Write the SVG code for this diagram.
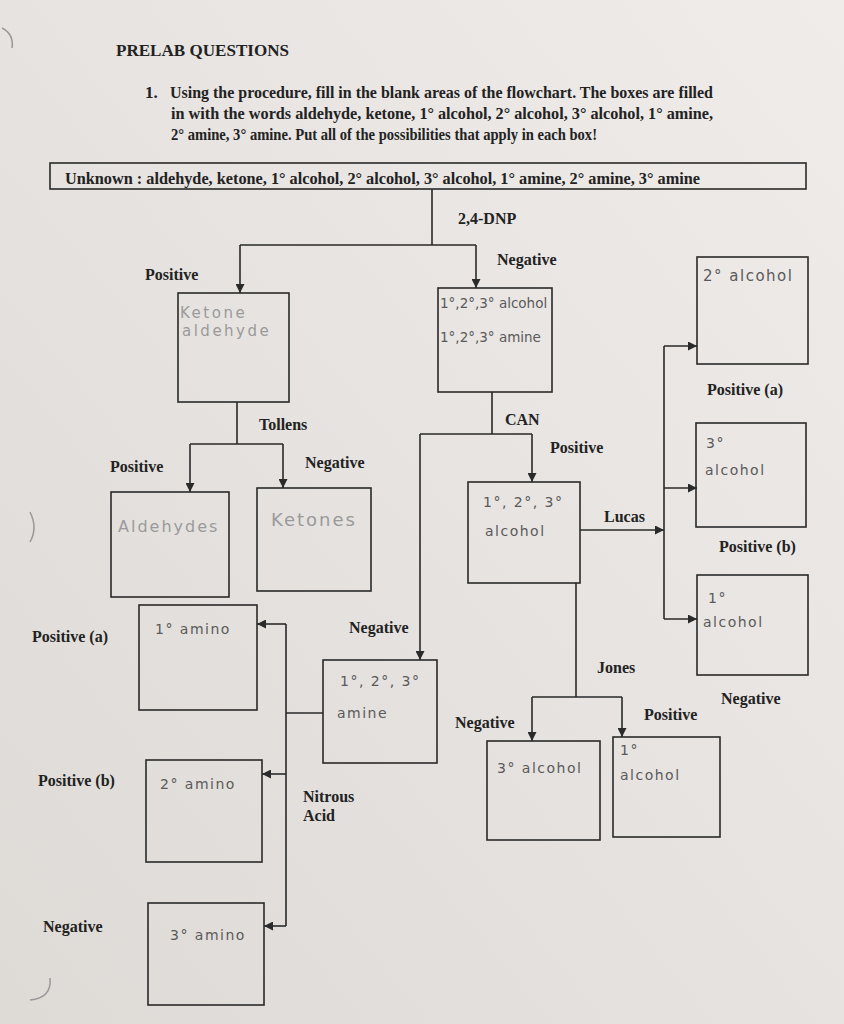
<svg xmlns="http://www.w3.org/2000/svg" width="844" height="1024" viewBox="0 0 844 1024">
<defs>
<linearGradient id="paper" x1="1" y1="0" x2="0" y2="1">
<stop offset="0" stop-color="#efecea"/>
<stop offset="1" stop-color="#dedad6"/>
</linearGradient>
<marker id="ah" viewBox="0 0 10 10" refX="10" refY="5" markerWidth="9" markerHeight="9" markerUnits="userSpaceOnUse" orient="auto">
<path d="M0,0 L10,5 L0,10 z" fill="#2a2a2a"/>
</marker>
<style>
.t{font-family:"Liberation Serif",serif;font-weight:bold;fill:#222;font-size:17px}
.s{font-family:"Liberation Serif",serif;font-weight:bold;fill:#222;font-size:16px}
.box{fill:none;stroke:#2a2a2a;stroke-width:1.6}
.ln{fill:none;stroke:#2a2a2a;stroke-width:1.6}
.ar{fill:none;stroke:#2a2a2a;stroke-width:1.6;marker-end:url(#ah)}
.h{font-family:"DejaVu Sans",sans-serif;font-size:14px;fill:#5a5a5a;letter-spacing:1.5px}
.hl{font-family:"DejaVu Sans",sans-serif;font-size:15px;fill:#9a9a9a;letter-spacing:2.5px}
.mark{fill:none;stroke:#999;stroke-width:1.5}
</style>
</defs>
<rect x="0" y="0" width="844" height="1024" fill="url(#paper)"/>
<path class="mark" d="M2,28 Q14,34 12,48"/>
<path class="mark" d="M30,512 Q38,528 30,542"/>
<path class="mark" d="M50,978 Q52,998 30,1000"/>

<g id="header">
<text class="t" x="116" y="56" textLength="173" lengthAdjust="spacingAndGlyphs">PRELAB QUESTIONS</text>
<text class="t" x="145" y="98">1.</text>
<text class="t" x="170" y="98" textLength="543" lengthAdjust="spacingAndGlyphs">Using the procedure, fill in the blank areas of the flowchart. The boxes are filled</text>
<text class="t" x="171" y="119" textLength="542" lengthAdjust="spacingAndGlyphs">in with the words aldehyde, ketone, 1° alcohol, 2° alcohol, 3° alcohol, 1° amine,</text>
<text class="t" x="171" y="140" textLength="426" lengthAdjust="spacingAndGlyphs">2° amine, 3° amine. Put all of the possibilities that apply in each box!</text>
</g>

<g id="unknown">
<rect class="box" x="50" y="163" width="756" height="26"/>
<text class="t" x="65" y="184" textLength="635" lengthAdjust="spacingAndGlyphs">Unknown : aldehyde, ketone, 1° alcohol, 2° alcohol, 3° alcohol, 1° amine, 2° amine, 3° amine</text>
</g>

<g id="connectors">
<path class="ln" d="M432,189 V245 M240,245 H476"/>
<path class="ar" d="M240,245 V293"/>
<path class="ar" d="M476,245 V288"/>
<path class="ln" d="M237,402 V444 M190,444 H283"/>
<path class="ar" d="M190,444 V492"/>
<path class="ar" d="M283,444 V488"/>
<path class="ln" d="M492,392 V434 M420,434 H532"/>
<path class="ar" d="M420,434 V660"/>
<path class="ar" d="M532,434 V482"/>
<path class="ar" d="M580,530 H664"/>
<path class="ln" d="M664,346 V619"/>
<path class="ar" d="M664,346 H697"/>
<path class="ar" d="M664,488 H697"/>
<path class="ar" d="M664,619 H697"/>
<path class="ln" d="M576,583 V697 M532,697 H622"/>
<path class="ar" d="M532,697 V741"/>
<path class="ar" d="M622,697 V737"/>
<path class="ln" d="M323,713 H286 M286,624 V926"/>
<path class="ar" d="M286,624 H257"/>
<path class="ar" d="M286,774 H262"/>
<path class="ar" d="M286,926 H264"/>
</g>

<g id="labels">
<text class="s" x="458" y="224">2,4-DNP</text>
<text class="s" x="145" y="280">Positive</text>
<text class="s" x="497" y="265">Negative</text>
<text class="s" x="259" y="430">Tollens</text>
<text class="s" x="110" y="472">Positive</text>
<text class="s" x="305" y="468">Negative</text>
<text class="s" x="505" y="425">CAN</text>
<text class="s" x="550" y="453">Positive</text>
<text class="s" x="604" y="522">Lucas</text>
<text class="s" x="707" y="395">Positive (a)</text>
<text class="s" x="719" y="552">Positive (b)</text>
<text class="s" x="721" y="704">Negative</text>
<text class="s" x="597" y="673">Jones</text>
<text class="s" x="455" y="728">Negative</text>
<text class="s" x="644" y="720">Positive</text>
<text class="s" x="349" y="633">Negative</text>
<text class="s" x="303" y="802">Nitrous</text>
<text class="s" x="303" y="821">Acid</text>
<text class="s" x="32" y="642">Positive (a)</text>
<text class="s" x="38" y="786">Positive (b)</text>
<text class="s" x="43" y="932">Negative</text>
</g>

<g id="box-carbonyl">
<rect class="box" x="178" y="293" width="111" height="109"/>
<text class="hl" x="180" y="318">Ketone</text>
<text class="hl" x="182" y="336">aldehyde</text>
</g>
<g id="box-neg-dnp">
<rect class="box" x="438" y="288" width="114" height="104"/>
<text class="h" x="440" y="308" style="font-size:13.5px;letter-spacing:0">1°,2°,3° alcohol</text>
<text class="h" x="440" y="342" style="font-size:13.5px;letter-spacing:0">1°,2°,3° amine</text>
</g>
<g id="box-2alcohol">
<rect class="box" x="697" y="257" width="111" height="107"/>
<text class="h" x="703" y="281" style="font-size:15px">2° alcohol</text>
</g>
<g id="box-aldehydes">
<rect class="box" x="111" y="492" width="118" height="105"/>
<text class="hl" x="118" y="532" style="font-size:16px;letter-spacing:2px">Aldehydes</text>
</g>
<g id="box-ketones">
<rect class="box" x="257" y="488" width="114" height="103"/>
<text class="hl" x="271" y="526" style="font-size:18px;letter-spacing:2px">Ketones</text>
</g>
<g id="box-alcohols">
<rect class="box" x="468" y="482" width="112" height="101"/>
<text class="h" x="483" y="507">1°, 2°, 3°</text>
<text class="h" x="485" y="536">alcohol</text>
</g>
<g id="box-3alcohol-r">
<rect class="box" x="696" y="423" width="110" height="104"/>
<text class="h" x="706" y="448">3°</text>
<text class="h" x="705" y="475">alcohol</text>
</g>
<g id="box-1alcohol-r">
<rect class="box" x="697" y="575" width="111" height="100"/>
<text class="h" x="708" y="603">1°</text>
<text class="h" x="703" y="627">alcohol</text>
</g>
<g id="box-3alcohol-b">
<rect class="box" x="487" y="741" width="113" height="99"/>
<text class="h" x="497" y="773">3° alcohol</text>
</g>
<g id="box-1alcohol-b">
<rect class="box" x="613" y="737" width="107" height="100"/>
<text class="h" x="620" y="755">1°</text>
<text class="h" x="620" y="780">alcohol</text>
</g>
<g id="box-amine">
<rect class="box" x="323" y="660" width="114" height="103"/>
<text class="h" x="340" y="686">1°, 2°, 3°</text>
<text class="h" x="337" y="718">amine</text>
</g>
<g id="box-1amino">
<rect class="box" x="139" y="605" width="118" height="105"/>
<text class="h" x="155" y="634">1° amino</text>
</g>
<g id="box-2amino">
<rect class="box" x="146" y="760" width="116" height="102"/>
<text class="h" x="160" y="789">2° amino</text>
</g>
<g id="box-3amino">
<rect class="box" x="148" y="903" width="116" height="102"/>
<text class="h" x="170" y="940">3° amino</text>
</g>
</svg>
